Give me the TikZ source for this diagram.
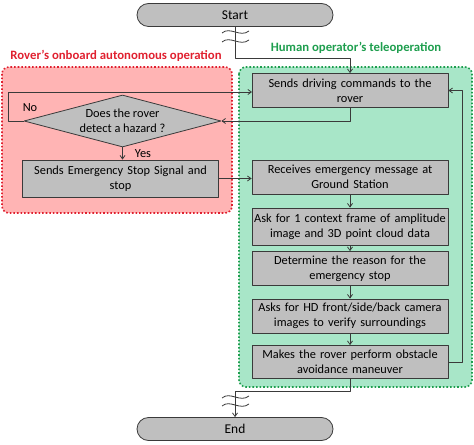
\documentclass[tikz,border=0pt]{standalone}
\usepackage{fontspec}
\setmainfont{Carlito}
\usetikzlibrary{shapes.geometric,arrows.meta}
\definecolor{boxfill}{HTML}{BFBFBF}
\definecolor{boxline}{HTML}{3A3A3A}
\definecolor{rovfill}{HTML}{FFB4B4}
\definecolor{rovline}{HTML}{E0202F}
\definecolor{opfill}{HTML}{A8E6C8}
\definecolor{opline}{HTML}{1E9E4E}
\begin{document}
\begin{tikzpicture}[x=1bp,y=-1bp,line join=bevel,
  flow/.style={draw=boxline,line width=0.8bp,-{Straight Barb[length=3.5bp,width=5bp]}},
  wire/.style={draw=boxline,line width=0.8bp},
  stepbox/.style={draw=boxline,fill=boxfill,line width=0.8bp,minimum width=196bp,
    minimum height=34bp,text width=192bp,align=center,inner sep=1bp,font=\fontsize{12.4}{15}\selectfont},
  terminal/.style={draw=boxline,fill=boxfill,line width=0.8bp,rounded corners=11.5bp,
    minimum width=196bp,minimum height=23bp,inner sep=0bp,font=\fontsize{13.5}{15}\selectfont},
  zone/.style={line width=1.6bp,dotted,rounded corners=7bp},
  zonelabel/.style={font=\fontsize{12.8}{15}\selectfont\bfseries},
  brk/.style={draw=boxline,line width=0.8bp},
]
\useasboundingbox (0,0) rectangle (474,445);
%%
  % Zone: Rover onboard
  \draw [zone,draw=rovline,fill=rovfill] (2,67) rectangle (232,213);
  \node [zonelabel,text=rovline] (rovlabel) at (116,56) {Rover’s onboard autonomous operation};
  % Zone: Operator
  \draw [zone,draw=opline,fill=opfill] (239,67) rectangle (472,387);
  \node [zonelabel,text=opline] (oplabel) at (356,48) {Human operator’s teleoperation};
  % Node: Start
  \node [terminal] (start) at (235,15) {Start};
  % Node: Drive
  \node [stepbox] (drive) at (350,90.5) {Sends driving commands to the\\rover};
  % Node: Hazard
  \node [shape=diamond,draw=boxline,fill=boxfill,line width=0.8bp,aspect=3.8,inner sep=0bp,
    minimum width=197bp,minimum height=52bp,align=center,font=\fontsize{12.4}{15}\selectfont]
    (hazard) at (122.5,121) {Does the rover\\detect a hazard ?};
  % Node: EStop
  \node [stepbox,minimum height=37bp] (estop) at (120.5,178.5) {Sends Emergency Stop Signal and\\stop};
  % Node: Receive
  \node [stepbox] (receive) at (350,177) {Receives emergency message at\\Ground Station};
  % Node: Context
  \node [stepbox,minimum height=37bp] (context) at (350,226.5) {Ask for 1 context frame of amplitude\\image and 3D point cloud data};
  % Node: Reason
  \node [stepbox] (reason) at (350,268.5) {Determine the reason for the\\emergency stop};
  % Node: Camera
  \node [stepbox] (camera) at (350,316) {Asks for HD front/side/back camera\\images to verify surroundings};
  % Node: Avoid
  \node [stepbox,minimum height=33bp] (avoid) at (350,362) {Makes the rover perform obstacle\\avoidance maneuver};
  % Node: End
  \node [terminal] (end) at (235,429) {End};
  % Edge: Start -> Drive
  \draw [flow] (start.south) -- (235,58) -| (drive.north);
  \foreach \yy in {32,41}
    \draw [brk,fill=white] (222,\yy+1) .. controls (230,\yy-6) and (240,\yy+6) .. (249,\yy-1);
  % Edge: Drive -> Hazard
  \draw [flow] (drive.south) |- (hazard.east);
  % Edge: Hazard -> Drive (No)
  \draw [flow] (hazard.west) -- (8,121) |- (252,92);
  \node (nolabel) at (30,108) {\fontsize{12.4}{14}\selectfont No};
  % Edge: Hazard -> EStop (Yes)
  \draw [flow] (hazard.south) -- (hazard.south |- estop.north);
  \node (yeslabel) at (143,153.5) {\fontsize{12.4}{14}\selectfont Yes};
  % Edge: EStop -> Receive
  \draw [flow] (estop.east) -- (estop.east -| receive.west);
  % Edge: chain of operator steps
  \draw [flow] (receive) -- (context);
  \draw [flow] (context) -- (reason);
  \draw [flow] (reason) -- (camera);
  \draw [flow] (camera) -- (avoid);
  % Edge: Avoid -> Drive (loop back)
  \draw [flow] (avoid.east) -- (462,362) |- (drive.east);
  % Edge: Avoid -> End
  \draw [flow] (avoid.south) -- (350,391) -| (end.north);
  \foreach \yy in {397,405}
    \draw [brk] (222,\yy+1) .. controls (230,\yy-6) and (240,\yy+6) .. (249,\yy-1);
%
\end{tikzpicture}
\end{document}
